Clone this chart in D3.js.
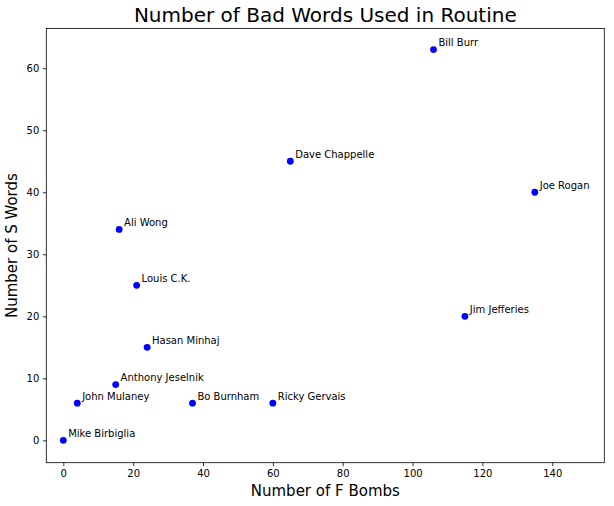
<!DOCTYPE html>
<html>
<head>
<meta charset="utf-8">
<script src="https://cdn.jsdelivr.net/npm/d3@7"></script>
<style>
    body { margin: 0; background: #fff; }
    text { font-family: "DejaVu Sans", sans-serif; fill: #000; }
</style>
</head>
<body>
<svg id="chart" width="614" height="506"></svg>
<script>
// comedians and their counts
const comedians = [
    "Mike Birbiglia", "John Mulaney", "Anthony Jeselnik", "Bo Burnham",
    "Ricky Gervais", "Hasan Minhaj", "Louis C.K.", "Ali Wong",
    "Dave Chappelle", "Bill Burr", "Joe Rogan", "Jim Jefferies",
];
const fBombs = [0, 4, 15, 37, 60, 24, 21, 16, 65, 106, 135, 115];
const sWords = [0, 6, 9, 6, 6, 15, 25, 34, 45, 63, 40, 20];

const xTicks = [0, 20, 40, 60, 80, 100, 120, 140];
const yTicks = [0, 10, 20, 30, 40, 50, 60];

const svg = d3.select("#chart");
const plotLeft = 46.3, plotRight = 604.3, plotTop = 28.5, plotBottom = 462.7;

const x = d3.scaleLinear().domain([-4.87, 154.9]).range([plotLeft, plotRight]);
const y = d3.scaleLinear().domain([-3.6, 66.4]).range([plotBottom, plotTop]);

const xAxis = svg.append("g")
    .attr("transform", `translate(0,${plotBottom})`)
    .call(d3.axisBottom(x).tickValues(xTicks).tickSize(3.5).tickPadding(3.5));
const yAxis = svg.append("g")
    .attr("transform", `translate(${plotLeft},0)`)
    .call(d3.axisLeft(y).tickValues(yTicks).tickSize(3.5).tickPadding(3.5));

[xAxis, yAxis].forEach((g) => {
    g.select(".domain").remove();
    g.selectAll("line").attr("stroke", "#000").attr("stroke-width", 0.8);
    g.selectAll("text").style("font-size", "10px")
        .style("font-family", "DejaVu Sans, sans-serif").attr("fill", "#000");
});

// frame
svg.append("rect")
    .attr("x", plotLeft).attr("y", plotTop)
    .attr("width", plotRight - plotLeft).attr("height", plotBottom - plotTop)
    .attr("fill", "none").attr("stroke", "#000").attr("stroke-width", 0.8);

const points = comedians.map((name, i) => ({ name, fx: fBombs[i], sy: sWords[i] }));

svg.append("g").selectAll("circle")
    .data(points)
    .join("circle")
    .attr("cx", (d) => x(d.fx))
    .attr("cy", (d) => y(d.sy))
    .attr("r", 3.4)
    .attr("fill", "#0000ff");

svg.append("g").selectAll("text")
    .data(points)
    .join("text")
    .attr("x", (d) => x(d.fx + 1.4))
    .attr("y", (d) => y(d.sy + 0.5))
    .style("font-size", "10px")
    .text((d) => d.name);

svg.append("text")
    .attr("x", (plotLeft + plotRight) / 2).attr("y", 22)
    .attr("text-anchor", "middle")
    .style("font-size", "20px")
    .text("Number of Bad Words Used in Routine");

svg.append("text")
    .attr("x", (plotLeft + plotRight) / 2).attr("y", 496)
    .attr("text-anchor", "middle")
    .style("font-size", "15px")
    .text("Number of F Bombs");

svg.append("text")
    .attr("transform", `translate(17,${(plotTop + plotBottom) / 2}) rotate(-90)`)
    .attr("text-anchor", "middle")
    .style("font-size", "15px")
    .text("Number of S Words");
</script>
</body>
</html>
